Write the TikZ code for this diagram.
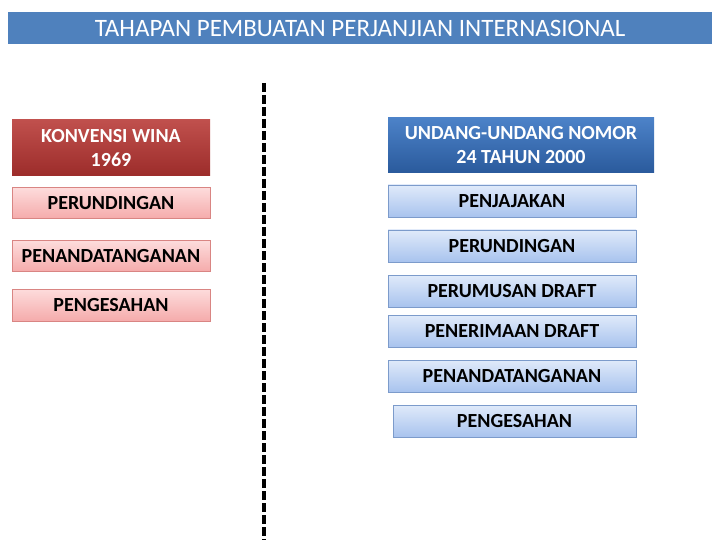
\documentclass[tikz,border=0pt]{standalone}
\usepackage{fontspec}
\setmainfont{Carlito}
\definecolor{titleblue}{HTML}{4F81BD}
\definecolor{redtop}{HTML}{C0504D}
\definecolor{redbot}{HTML}{9C2C2A}
\definecolor{pinktop}{HTML}{FDDCDC}
\definecolor{pinkbot}{HTML}{F5ABAB}
\definecolor{pinkline}{HTML}{D98583}
\definecolor{bluetop}{HTML}{4C82C8}
\definecolor{bluebot}{HTML}{2A5A9C}
\definecolor{lbluetop}{HTML}{E0EAFA}
\definecolor{lbluebot}{HTML}{A8C3EE}
\definecolor{lblueline}{HTML}{7C9BCB}
\tikzset{
  hdrred/.style={rectangle, inner sep=0pt, top color=redtop, bottom color=redbot, draw=none, text=white, align=center, font=\fontsize{20}{24}\selectfont\bfseries},
  hdrblue/.style={rectangle, inner sep=0pt, top color=bluetop, bottom color=bluebot, draw=none, text=white, align=center, font=\fontsize{20}{24}\selectfont\bfseries},
  pinkbox/.style={rectangle, inner sep=0pt, top color=pinktop, bottom color=pinkbot, draw=pinkline, line width=0.8pt, text=black, font=\fontsize{20}{22}\selectfont\bfseries},
  bluebox/.style={rectangle, inner sep=0pt, top color=lbluetop, bottom color=lbluebot, draw=lblueline, line width=0.8pt, text=black, font=\fontsize{20}{22}\selectfont\bfseries},
}
\begin{document}
\begin{tikzpicture}[x=1pt,y=-1pt]
\useasboundingbox (0,0) rectangle (720,540);
\node[rectangle, fill=titleblue, minimum width=704pt, minimum height=32pt, inner sep=0pt, text=white, font=\fontsize{25}{27}\selectfont] (title) at (360,28) {TAHAPAN PEMBUATAN PERJANJIAN INTERNASIONAL};
\coordinate (dtop) at (264,83);
\coordinate (dbot) at (264,540);
\draw[line width=3.5pt, dash pattern=on 9pt off 3pt] (dtop) -- (dbot);
% left column
\node[hdrred, minimum width=198pt, minimum height=56pt] (kw) at (111,148) {KONVENSI WINA\\1969};
\node[pinkbox, minimum width=198pt, minimum height=31pt] (l1) at (111,203) {PERUNDINGAN};
\node[pinkbox, minimum width=198pt, minimum height=31pt] (l2) at (111,256) {PENANDATANGANAN};
\node[pinkbox, minimum width=198pt, minimum height=32pt] (l3) at (111,305) {PENGESAHAN};
% right column
\node[hdrblue, minimum width=266pt, minimum height=55pt] (uu) at (521,145.5) {UNDANG-UNDANG NOMOR\\24 TAHUN 2000};
\node[bluebox, minimum width=248pt, minimum height=32pt] (r1) at (512,201) {PENJAJAKAN};
\node[bluebox, minimum width=248pt, minimum height=32pt] (r2) at (512,246) {PERUNDINGAN};
\node[bluebox, minimum width=248pt, minimum height=32pt] (r3) at (512,291) {PERUMUSAN DRAFT};
\node[bluebox, minimum width=248pt, minimum height=32pt] (r4) at (512,331) {PENERIMAAN DRAFT};
\node[bluebox, minimum width=248pt, minimum height=32pt] (r5) at (512,376) {PENANDATANGANAN};
\node[bluebox, minimum width=243pt, minimum height=32pt] (r6) at (514.5,421) {PENGESAHAN};
\end{tikzpicture}
\end{document}
